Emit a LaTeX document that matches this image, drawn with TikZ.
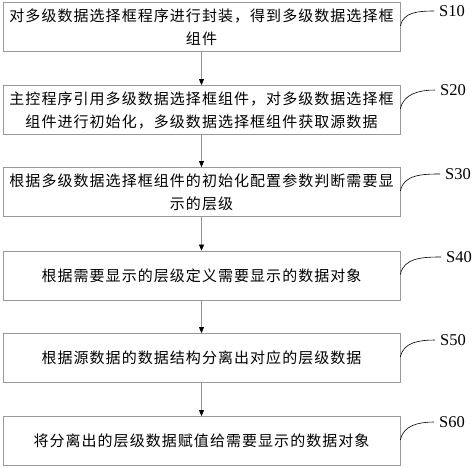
\documentclass[tikz,border=0pt]{standalone}
\usepackage{fontspec}
\usepackage{tikz}
\usetikzlibrary{arrows.meta}
\setmainfont{Liberation Serif}
\newfontfamily\cjk[LetterSpace=7]{Noto Sans CJK SC}

\tikzset{
	stepbox/.style={draw=gray!80, line width=0.8pt, minimum width=397pt, minimum height=49pt,
		align=center, inner sep=0pt, font=\cjk\fontsize{15pt}{23pt}\selectfont},
	steplabel/.style={anchor=west, inner xsep=5pt, inner ysep=0pt, font=\fontsize{16.5pt}{16.5pt}\selectfont},
	flow/.style={draw=gray!85, line width=0.7pt, -{Triangle[length=6pt,width=5pt,black]}},
	tag/.style={line width=0.6pt, out=80, in=180}
}

\begin{document}
\begin{tikzpicture}[x=1pt, y=-1pt]
			\useasboundingbox (0,0) rectangle (474,467);
			
			\node[stepbox] (b1) at (201.5, 27) {对多级数据选择框程序进行封装，得到多级数据选择框\\组件};
			\node[stepbox] (b2) at (201.5, 110) {主控程序引用多级数据选择框组件，对多级数据选择框\\组件进行初始化，多级数据选择框组件获取源数据};
			\node[stepbox] (b3) at (201.5, 192) {根据多级数据选择框组件的初始化配置参数判断需要显\\示的层级};
			\node[stepbox] (b4) at (201.5, 275.5) {根据需要显示的层级定义需要显示的数据对象};
			\node[stepbox] (b5) at (201.5, 358) {根据源数据的数据结构分离出对应的层级数据};
			\node[stepbox] (b6) at (201.5, 441) {将分离出的层级数据赋值给需要显示的数据对象};
			
			\node[steplabel] (s1) at (434, 11) {S10};
			\node[steplabel] (s2) at (435, 90) {S20};
			\node[steplabel] (s3) at (440, 174) {S30};
			\node[steplabel] (s4) at (441, 257) {S40};
			\node[steplabel] (s5) at (435, 340) {S50};
			\node[steplabel] (s6) at (434, 422) {S60};
			
			\draw[flow] (b1) -- (b2);
			\draw[flow] (b2) -- (b3);
			\draw[flow] (b3) -- (b4);
			\draw[flow] (b4) -- (b5);
			\draw[flow] (b5) -- (b6);
			
			\draw[tag] ([yshift=1pt]b1.east) to (s1.west);
			\draw[tag] ([yshift=1pt]b2.east) to (s2.west);
			\draw[tag] ([yshift=1pt]b3.east) to (s3.west);
			\draw[tag] ([yshift=1pt]b4.east) to (s4.west);
			\draw[tag] ([yshift=1pt]b5.east) to (s5.west);
			\draw[tag] ([yshift=1pt]b6.east) to (s6.west);
		\end{tikzpicture}
\end{document}
